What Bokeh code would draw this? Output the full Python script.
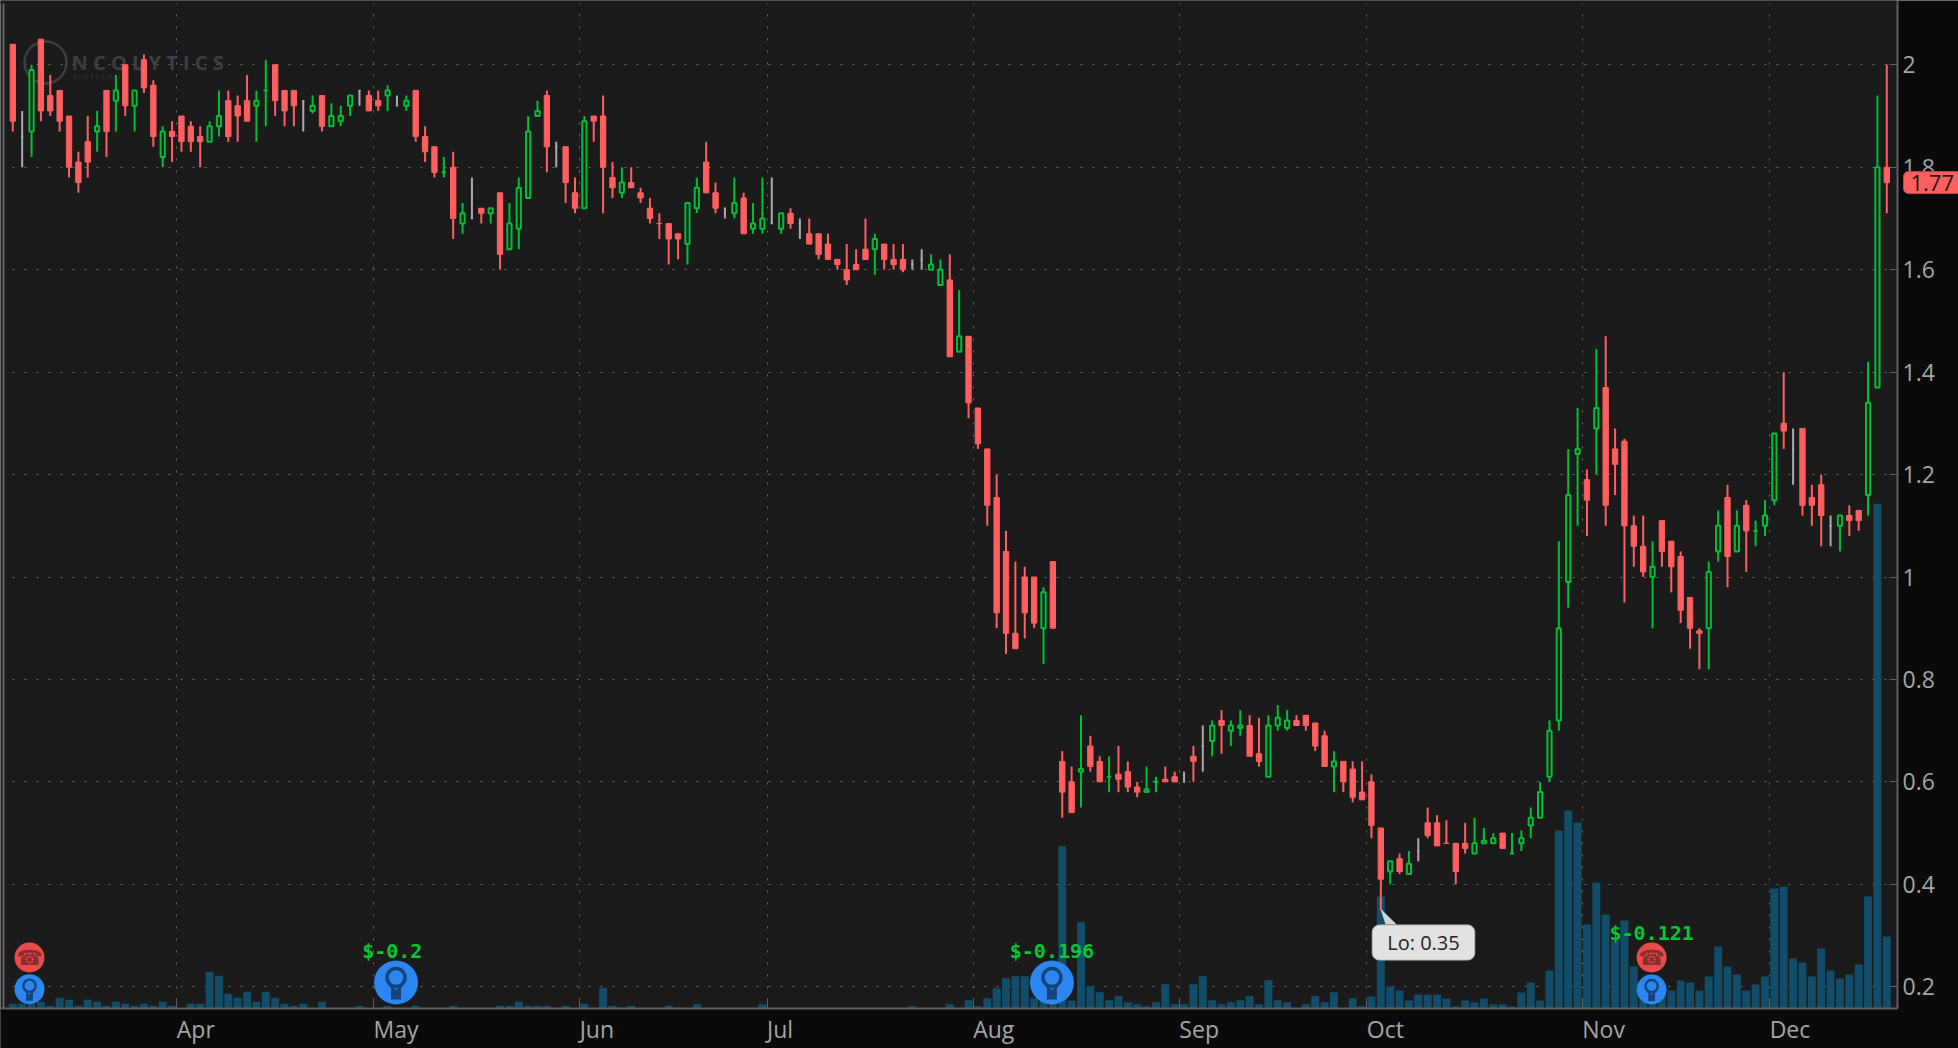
from bokeh.plotting import figure
from bokeh.models import Range1d, FixedTicker, Label
from bokeh.core.properties import value
from bokeh.embed import file_html
from bokeh.resources import INLINE
import numpy as np

highs = [2.04,1.91,2.00,2.05,1.98,1.95,1.90,1.83,1.90,1.91,
 1.95,1.98,2.00,1.95,2.02,1.97,1.88,1.89,1.90,1.89,
 1.88,1.89,1.95,1.95,1.94,1.98,1.95,2.01,2.00,1.95,
 1.95,1.93,1.94,1.94,1.925,1.92,1.94,1.95,1.95,1.95,
 1.96,1.94,1.94,1.95,1.88,1.84,1.82,1.83,1.73,1.78,
 1.72,1.72,1.75,1.73,1.78,1.90,1.93,1.95,1.85,1.84,
 1.78,1.90,1.90,1.94,1.81,1.80,1.80,1.76,1.74,1.71,
 1.69,1.67,1.73,1.78,1.85,1.77,1.72,1.78,1.75,1.73,
 1.78,1.78,1.71,1.72,1.70,1.70,1.67,1.67,1.62,1.65,
 1.64,1.70,1.67,1.65,1.65,1.65,1.62,1.64,1.63,1.62,
 1.63,1.56,1.47,1.33,1.25,1.20,1.09,1.03,1.02,1.00,
 0.98,1.03,0.66,0.63,0.73,0.69,0.65,0.65,0.67,0.64,
 0.60,0.63,0.61,0.63,0.62,0.62,0.67,0.71,0.72,0.74,
 0.72,0.74,0.73,0.725,0.73,0.75,0.74,0.73,0.73,0.715,
 0.70,0.66,0.64,0.64,0.64,0.615,0.51,0.445,0.46,0.465,
 0.49,0.55,0.535,0.525,0.48,0.52,0.53,0.51,0.50,0.50,
 0.50,0.505,0.55,0.60,0.72,1.07,1.25,1.33,1.21,1.445,
 1.47,1.29,1.27,1.12,1.12,1.07,1.11,1.07,1.05,0.96,
 0.90,1.03,1.13,1.18,1.13,1.15,1.11,1.15,1.28,1.40,
 1.29,1.29,1.18,1.20,1.12,1.12,1.14,1.13,1.42,1.94,2.00]

tops = [2.04,1.86,1.99,2.05,1.94,1.95,1.90,1.81,1.85,1.88,
 1.95,1.95,2.00,1.95,2.01,1.96,1.87,1.87,1.90,1.88,
 1.86,1.88,1.90,1.93,1.92,1.93,1.93,1.95,2.00,1.95,
 1.95,1.93,1.92,1.94,1.90,1.90,1.94,1.95,1.94,1.93,
 1.95,1.92,1.93,1.95,1.86,1.84,1.79,1.80,1.71,1.70,
 1.72,1.72,1.75,1.69,1.76,1.87,1.91,1.94,1.84,1.84,
 1.75,1.89,1.90,1.90,1.78,1.77,1.77,1.75,1.72,1.69,
 1.69,1.67,1.73,1.76,1.81,1.75,1.72,1.73,1.74,1.69,
 1.70,1.69,1.71,1.71,1.69,1.67,1.67,1.65,1.62,1.60,
 1.61,1.64,1.66,1.65,1.62,1.62,1.61,1.62,1.61,1.60,
 1.58,1.47,1.47,1.33,1.25,1.155,1.05,0.89,1.00,1.00,
 0.97,1.03,0.64,0.60,0.625,0.67,0.64,0.61,0.615,0.62,
 0.59,0.585,0.60,0.605,0.61,0.60,0.65,0.67,0.71,0.72,
 0.71,0.71,0.71,0.655,0.71,0.725,0.72,0.72,0.73,0.715,
 0.69,0.64,0.64,0.625,0.58,0.60,0.51,0.445,0.45,0.44,
 0.465,0.52,0.52,0.48,0.48,0.48,0.48,0.485,0.49,0.50,
 0.46,0.49,0.53,0.58,0.70,0.90,1.16,1.25,1.19,1.33,
 1.37,1.25,1.265,1.10,1.06,1.02,1.11,1.07,1.04,0.96,
 0.895,1.01,1.10,1.155,1.10,1.14,1.09,1.12,1.28,1.30,
 1.25,1.29,1.155,1.18,1.10,1.12,1.12,1.13,1.34,1.80,1.80]

bottoms = [1.89,1.86,1.87,1.91,1.91,1.89,1.80,1.77,1.81,1.87,
 1.87,1.93,1.92,1.92,1.955,1.86,1.82,1.86,1.85,1.85,
 1.85,1.85,1.88,1.86,1.90,1.89,1.92,1.95,1.93,1.91,
 1.92,1.93,1.91,1.88,1.88,1.89,1.92,1.95,1.91,1.92,
 1.94,1.92,1.92,1.86,1.83,1.79,1.79,1.70,1.69,1.70,
 1.71,1.71,1.63,1.64,1.68,1.74,1.90,1.84,1.84,1.77,
 1.72,1.72,1.89,1.80,1.76,1.75,1.76,1.74,1.70,1.69,
 1.66,1.66,1.65,1.72,1.75,1.72,1.72,1.71,1.67,1.68,
 1.68,1.69,1.68,1.69,1.69,1.65,1.63,1.62,1.61,1.58,
 1.60,1.62,1.64,1.62,1.61,1.60,1.61,1.62,1.60,1.57,
 1.43,1.44,1.34,1.26,1.14,0.93,0.89,0.86,0.93,0.91,
 0.90,0.90,0.58,0.54,0.62,0.63,0.60,0.61,0.605,0.59,
 0.58,0.58,0.60,0.60,0.60,0.60,0.64,0.67,0.68,0.71,
 0.70,0.705,0.65,0.64,0.61,0.71,0.705,0.71,0.71,0.67,
 0.63,0.63,0.60,0.57,0.565,0.515,0.41,0.425,0.425,0.42,
 0.465,0.495,0.475,0.48,0.425,0.47,0.46,0.48,0.48,0.47,
 0.46,0.48,0.515,0.53,0.61,0.72,0.99,1.24,1.15,1.29,
 1.14,1.22,1.10,1.06,1.01,1.00,1.05,1.02,0.935,0.90,
 0.89,0.90,1.05,1.04,1.05,1.09,1.09,1.10,1.15,1.285,
 1.25,1.14,1.14,1.12,1.10,1.10,1.11,1.11,1.16,1.37,1.77]

lows = [1.87,1.80,1.82,1.89,1.90,1.87,1.78,1.75,1.78,1.83,
 1.82,1.87,1.90,1.87,1.945,1.84,1.80,1.81,1.83,1.83,
 1.80,1.85,1.86,1.85,1.85,1.89,1.85,1.88,1.90,1.88,
 1.88,1.87,1.905,1.87,1.88,1.88,1.90,1.92,1.91,1.91,
 1.91,1.92,1.91,1.85,1.81,1.78,1.78,1.66,1.67,1.70,
 1.69,1.69,1.60,1.64,1.64,1.74,1.90,1.79,1.80,1.73,
 1.71,1.72,1.85,1.71,1.74,1.74,1.76,1.73,1.69,1.66,
 1.61,1.62,1.61,1.71,1.75,1.71,1.70,1.70,1.67,1.67,
 1.67,1.69,1.67,1.68,1.66,1.65,1.62,1.62,1.60,1.57,
 1.60,1.62,1.59,1.60,1.60,1.595,1.60,1.60,1.60,1.57,
 1.43,1.44,1.31,1.25,1.10,0.90,0.85,0.86,0.88,0.90,
 0.83,0.90,0.53,0.54,0.55,0.62,0.60,0.58,0.58,0.58,
 0.57,0.58,0.58,0.60,0.60,0.60,0.60,0.62,0.65,0.655,
 0.67,0.69,0.65,0.63,0.61,0.70,0.70,0.71,0.70,0.66,
 0.63,0.58,0.58,0.56,0.565,0.49,0.35,0.40,0.42,0.42,
 0.445,0.49,0.475,0.48,0.40,0.46,0.46,0.48,0.48,0.47,
 0.46,0.465,0.49,0.53,0.60,0.70,0.94,1.10,1.08,1.20,
 1.10,1.16,0.95,1.02,1.00,0.90,1.02,0.97,0.91,0.86,
 0.82,0.82,1.03,0.98,1.05,1.01,1.06,1.08,1.14,1.25,
 1.18,1.12,1.10,1.06,1.06,1.05,1.08,1.09,1.12,1.37,1.71]

kinds = ("RNGRRRRRRG" "RGRGRRGRRR" "RGGRRRGGRR" "RNGRGGGNRR" "GNGRRRGRGN"
         "RGRGGGGRNR" "RGRRRGRRRR" "RRGGRRNGRG" "GNGRNRRRRR" "RRGRRRNNGG"
         "RGRRRRRRRR" "GRRRGRRGRR" "RGGRRNRNGR" "GGRRGGGRRR" "RGRRRRRGRG"
         "NRRRRRGGGR" "GGGGGGGGRG" "RRRRRGRRRR" "RGGRGRGGGR" "NRRRNGRRGG" "R")

volumes = [4.7,4.7,4.7,6.7,2.7,10.7,8.7,2.7,8.7,6.7,
 2.7,6.7,4.7,2.7,4.7,2.7,6.7,2.7,0,4.7,
 4.7,36.7,32.7,14.7,10.7,16.7,6.7,16.7,10.7,4.7,
 2.7,4.7,0,6.7,0,0,0,2.7,0,0,
 2.7,0,0,2.7,0,0,0,2.7,0,0,
 0,0,2.7,2.7,6.7,2.7,2.7,2.7,0,2.7,
 0,4.7,0,20.7,2.7,0,2.7,0,0,0,
 2.7,0,0,4.3,0,0,0,0,0,0,
 4.3,0,0,0,0,0,0,0,0,0,
 0,0,0,0,0,0,2.3,0,0,0,
 4.3,0,8.3,2.3,10.3,20.3,30.3,32.3,32.3,10.3,
 10,10,162.3,8,86.3,22.3,16.3,8.3,12.3,6.3,
 4.3,2.3,6.3,24.3,4.3,4.3,24.3,32.3,8.3,4.3,
 6.3,8.3,12.3,4.3,28.3,8.3,6.3,0,4.3,12.3,
 6.3,16.3,0,10.3,2.3,12,112,22,18,8,
 14,14,14,10,2,8,6,10,4,4,
 2,16,26,8,38,178,198,186,84,126,
 94,68,88,42,10,10,18,18,28,26,
 18,32,62,42,34,18,24,32,120,122,
 50,46,32,60,38,30,34,44,112,504.7,72]

price_ticks = [0.2,0.4,0.6,0.8,1.0,1.2,1.4,1.6,1.8,2.0]
price_labels = ["0.2","0.4","0.6","0.8","1","1.2","1.4","1.6","1.8","2"]
month_ticks = [17.5,38.5,60.5,80.5,102.5,124.5,144.5,167.5,187.5]
month_labels = ["Apr","May","Jun","Jul","Aug","Sep","Oct","Nov","Dec"]

last_price = 1.77
low_label = "Lo: 0.35"
low_index = 146
earnings = [(40.9, "$-0.2"), (110.9, "$-0.196"), (174.9, "$-0.121")]

BG = "#1b1b1b"; AXBG = "#0a0a0a"; AX = "#606060"; TXT = "#a4a4a4"
RED = "#ff5f5f"; GREEN = "#00bf36"; GRAY = "#ababab"; VOL = "#114c69"
BLUE = "#2b86ef"; BLUED = "#17437c"; PHONE = "#ea4a4a"; PHONED = "#8a2b2e"
FONT = "Open Sans"

PITCH = 9.37; X0 = 12.3
def ix(px):
    return (px - X0) / PITCH

PY_BOTTOM = 2 - (1008 - 64.3) / 512.2     # price at the time axis

n = len(highs)
idx = np.arange(n)
hi, to, bo, lo = map(np.array, (highs, tops, bottoms, lows))
mask = {k: np.array([c == k for c in kinds]) for k in "RGN"}

p = figure(frame_width=1958, frame_height=1048, min_border=0, title=None,
           x_range=Range1d(ix(0), ix(1958)),
           y_range=Range1d(2 - (1048 - 64.3) / 512.2, 2 + 64.3 / 512.2),
           output_backend="svg", toolbar_location=None, x_axis_location="below", y_axis_location="right",
           background_fill_color=BG, border_fill_color=AXBG, outline_line_color=None)
p.extra_y_ranges = {"vol": Range1d(-40, 1008)}

xa = p.xaxis[0]
xa.ticker = FixedTicker(ticks=month_ticks)
xa.major_label_overrides = {t: " " for t in month_ticks}
ya = p.yaxis[0]
ya.ticker = FixedTicker(ticks=price_ticks)
ya.major_label_overrides = dict(zip(price_ticks, price_labels))
xa.fixed_location = PY_BOTTOM
ya.fixed_location = ix(1897)
xa.bounds = (ix(0), ix(1897))
ya.bounds = (PY_BOTTOM, 2 + 64.3 / 512.2)
for a in (xa, ya):
    a.axis_line_color = AX; a.axis_line_width = 2
    a.major_tick_line_color = AX; a.major_tick_line_width = 1
    a.major_tick_in = 8; a.major_tick_out = 0
    a.minor_tick_line_color = None
    a.major_label_text_color = TXT
    a.major_label_text_font = FONT
    a.major_label_text_font_size = "23px"
ya.major_label_standoff = 5
for g in (p.xgrid[0], p.ygrid[0]):
    g.grid_line_color = "#6a6a6a"; g.grid_line_dash = "2 10"; g.grid_line_width = 1
p.xgrid[0].ticker = xa.ticker
p.ygrid[0].ticker = ya.ticker

# dark strips round the plot area (cover the grid ends)
p.quad(left=ix(1897), right=ix(1958), bottom=-40, top=1008, y_range_name="vol",
       fill_color=AXBG, line_color=None)
p.quad(left=ix(0), right=ix(1958), bottom=-40, top=0, y_range_name="vol",
       fill_color=AXBG, line_color=None)
p.quad(left=ix(0), right=ix(2), bottom=-40, top=1008, y_range_name="vol", fill_color=BG, line_color=None)
p.quad(left=ix(0), right=ix(4), bottom=-40, top=0, y_range_name="vol", fill_color=AXBG, line_color=None)
p.segment([ix(3)], [0], [ix(3)], [1008], y_range_name="vol", line_color=AX, line_width=2)
p.quad(left=ix(0), right=ix(1896), bottom=1005, top=1008, y_range_name="vol", fill_color=BG, line_color=None,
       level="overlay")

for t, s in zip(month_ticks, month_labels):
    p.add_layout(Label(x=t, y=-20, y_range_name="vol", text=s, text_font=FONT, text_font_size="23px",
                       text_color=TXT, text_align="left", text_baseline="middle"))

# watermark
wm = "#3e3e3e"
p.scatter([ix(45)], [2.0045], size=42, marker="circle", fill_color=None, line_color=wm, line_width=2.5)
p.text([ix(71)], [2.0045], text=["N C O L Y T I C S"], text_color=wm, text_font=value(FONT),
       text_font_size="20px", text_font_style="bold", text_baseline="middle")
p.text([ix(72)], [1.978], text=["B I O T E C H    I N C"], text_color="#323232", text_font=value(FONT),
       text_font_size="7px", text_baseline="middle")

# volume
p.vbar(x=idx, top=volumes, bottom=0, width=0.85, fill_color=VOL, line_color=None, y_range_name="vol")

# candles
for k, col in (("R", RED), ("G", GREEN), ("N", GRAY)):
    m = mask[k]
    p.segment(idx[m], hi[m], idx[m], lo[m], line_color=col, line_width=2)
m = mask["R"]
p.vbar(x=idx[m], top=to[m], bottom=bo[m], width=0.57, fill_color=RED, line_color=RED, line_width=1)
m = mask["G"]
p.vbar(x=idx[m], top=to[m], bottom=bo[m], width=0.45, fill_color=BG, line_color=GREEN, line_width=2)
m = mask["N"]
p.vbar(x=idx[m], top=to[m], bottom=bo[m], width=0.25, fill_color=GRAY, line_color=GRAY, line_width=1.5)

# event icons (heights are pixels above the axis, read on the "vol" range)
def bulb(i, yc, d):
    s = d / 44.0
    p.scatter([i], [yc], size=d, marker="circle", fill_color=BLUE, line_color=None, y_range_name="vol")
    p.scatter([i], [yc - 3*s], size=15*s, marker="inverted_triangle", fill_color=BLUE, line_color=BLUED,
              line_width=3*s, y_range_name="vol")
    p.scatter([i], [yc + 5*s], size=18*s, marker="circle", fill_color=BLUE, line_color=BLUED,
              line_width=3.5*s, y_range_name="vol")
    p.scatter([i], [yc - 12*s], size=10*s, marker="square", fill_color=BLUED, line_color=None,
              y_range_name="vol")
def phone(i, yc):
    p.scatter([i], [yc], size=30, marker="circle", fill_color=PHONE, line_color=None, y_range_name="vol")
    p.text([i], [yc], text=["\u260e"], text_color=PHONED, text_font=value("DejaVu Sans"),
           text_font_size="21px", text_align="center", text_baseline="middle", y_range_name="vol")

phone(ix(29), 51); bulb(ix(29), 19.3, 30)
bulb(earnings[0][0], 26, 44)
bulb(earnings[1][0], 26, 44)
phone(earnings[2][0], 51); bulb(earnings[2][0], 19, 30)
for (i, t), yh, dx in zip(earnings, (58, 58, 76), (-0.4, 0, 0)):
    p.text([i + dx], [yh], text=[t], text_color="#00c832", text_font=value("DejaVu Sans Mono"),
           text_font_size="20px", text_font_style="bold", text_align="center",
           text_baseline="middle", y_range_name="vol")

# low callout
p.patch([low_index - 0.05, low_index + 0.5, low_index + 1.7], [100, 84, 84],
        fill_color="#d4d4d4", line_color=None, y_range_name="vol")
p.add_layout(Label(x=ix(1423), y=66, y_range_name="vol", text=low_label, text_font=FONT, text_font_size="20px",
                   text_color="#222222", text_align="center", text_baseline="middle",
                   background_fill_color="#e2e2e2", border_line_color="#bdbdbd",
                   padding=(15, 4), border_radius=7))

# last price tag
p.add_layout(Label(x=ix(1903), y=last_price, text=f"{last_price:.2f}", text_font=FONT,
                   text_font_size="22px", text_color="#1c1c1c", text_align="left", text_baseline="middle",
                   background_fill_color=RED, border_line_color="#b84a4a",
                   padding=(7, 3), border_radius=5))

open("out.html", "w").write(file_html(p, INLINE))
